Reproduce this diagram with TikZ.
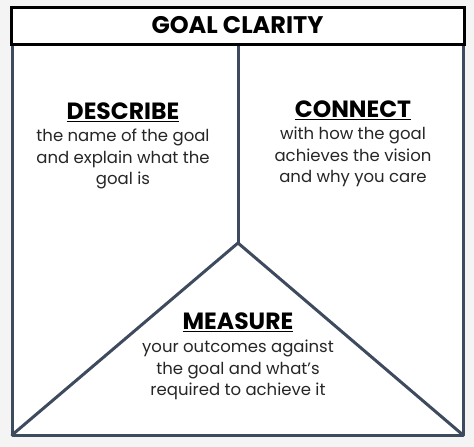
\documentclass[tikz,border=0pt]{standalone}
\usepackage{fontspec}
\setmainfont{Poppins}
\usetikzlibrary{positioning}
\definecolor{framegrey}{RGB}{244,244,244}
\definecolor{slateline}{RGB}{62,74,94}
\tikzset{
  titlebox/.style={draw=black, line width=3pt, fill=white, minimum width=453pt,
                   minimum height=37pt, inner sep=0pt, font=\fontsize{24}{26}\selectfont\bfseries},
  panelline/.style={slateline, line width=3pt, line cap=round, line join=round},
  headtext/.style={font=\fontsize{23.5}{25}\selectfont\bfseries, inner sep=1pt},
  bodytext/.style={font=\fontsize{16.5}{21.5}\selectfont, align=center, inner sep=0pt,
                   text=black!85},
}
\begin{document}
\begin{tikzpicture}[x=1pt, y=-1pt]
  \fill[framegrey] (0,0) rectangle (474,447);
  \useasboundingbox (0,0) rectangle (474,447);
  % panel frame and dividers
  \coordinate (tl) at (12,44);  \coordinate (tr) at (463,44);
  \coordinate (bl) at (12,435); \coordinate (br) at (463,435);
  \coordinate (top) at (238,44); \coordinate (apex) at (238,243);
  \fill[white] (tl) rectangle (br);
  \draw[panelline] (tl) -- (bl) -- (br) -- (tr);
  \draw[panelline] (top) -- (apex);
  \draw[panelline] (bl) -- (apex) -- (br);
  \node[titlebox] (title) at (237.5,25.5) {GOAL CLARITY};
  % describe
  \node[headtext] (describe) at (123,112) {\underline{DESCRIBE}};
  \node[bodytext] (describebody) at (123,159)
    {the name of the goal\\and explain what the\\goal is};
  % connect
  \node[headtext] (connect) at (353,110) {\underline{CONNECT}};
  \node[bodytext] (connectbody) at (353,157)
    {with how the goal\\achieves the vision\\and why you care};
  % measure
  \node[headtext] (measure) at (238,322) {\underline{MEASURE}};
  \node[bodytext] (measurebody) at (238,370)
    {your outcomes against\\the goal and what’s\\required to achieve it};
\end{tikzpicture}
\end{document}
